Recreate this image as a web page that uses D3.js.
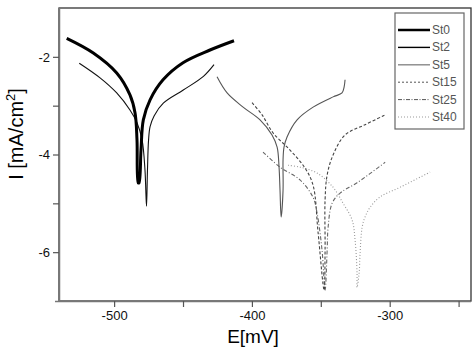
<!DOCTYPE html>
<html>
<head>
<meta charset="utf-8">
<script src="https://cdn.jsdelivr.net/npm/d3@7"></script>
<style>
  body { margin: 0; background: #fff; }
  text { font-family: "Liberation Sans", Arial, sans-serif; }
</style>
</head>
<body>
<svg id="chart"></svg>
<script>
// Tafel curves: E [mV] and log I [mA/cm2]
const st0E = [-534.4, -515.1, -498.1, -488.5, -484.8, -483.4, -482.5, -481.9, -480.5, -478.8, -473.9, -464.5, -450.0, -430.4, -413.0];
const st0I = [-1.62, -1.92, -2.33, -2.78, -3.15, -3.70, -4.58, -4.58, -3.91, -3.29, -2.88, -2.47, -2.12, -1.86, -1.67];

const st2E = [-525.3, -510.2, -498.1, -488.5, -483.4, -479.7, -477.6, -476.5, -475.8, -475.0, -473.9, -471.0, -464.3, -449.8, -435.2, -427.5];
const st2I = [-2.13, -2.43, -2.74, -3.09, -3.35, -3.70, -4.32, -5.06, -4.32, -3.70, -3.43, -3.21, -2.95, -2.68, -2.40, -2.16];

const st5E = [-425.3, -418.0, -406.4, -394.1, -385.4, -381.7, -380.3, -379.6, -378.8, -377.4, -377.4, -376.7, -374.5, -367.2, -355.6, -341.1, -334.6, -333.1, -332.4];
const st5I = [-2.41, -2.74, -3.03, -3.29, -3.60, -3.85, -4.26, -4.73, -5.28, -4.73, -4.11, -3.85, -3.64, -3.29, -3.03, -2.82, -2.74, -2.62, -2.47];

const st15E = [-399.9, -392.6, -384.6, -372.3, -361.4, -355.6, -352.0, -347.6, -346.9, -346.9, -345.4, -341.1, -332.4, -317.9, -303.3];
const st15I = [-2.94, -3.19, -3.56, -3.91, -4.28, -4.63, -5.59, -6.78, -5.96, -4.93, -4.42, -4.01, -3.60, -3.39, -3.19];

const st25E = [-391.9, -379.6, -365.1, -355.6, -352.7, -349.1, -346.9, -345.4, -344.7, -341.8, -336.0, -323.7, -303.3];
const st25I = [-3.95, -4.26, -4.52, -4.88, -5.20, -5.96, -6.78, -5.96, -5.49, -5.00, -4.79, -4.58, -4.16];

const st40E = [-373.8, -365.0, -352.7, -341.1, -333.8, -327.3, -325.1, -323.7, -323.7, -322.2, -321.5, -320.0, -317.9, -314.2, -307.0, -292.4, -270.7];
const st40I = [-4.22, -4.26, -4.38, -4.67, -5.00, -5.34, -5.76, -6.43, -6.72, -6.43, -6.02, -5.49, -5.28, -5.08, -4.87, -4.67, -4.36];

const seriesNames = ["St0", "St2", "St5", "St15", "St25", "St40"];
const xTicks = [-500, -450, -400, -350, -300, -250];
const xTickLabels = ["-500", "", "-400", "", "-300", ""];
const yTicks = [-2, -3, -4, -5, -6];
const yTickLabels = ["-2", "", "-4", "", "-6"];

function main() {
    const width = 474, height = 351;
    const svg = d3.select("#chart").attr("width", width).attr("height", height);

    // plot frame
    const left = 59, right = 471, top = 8, bottom = 301;

    const x = d3.scaleLinear().domain([-540, -241]).range([left, right]);
    const y = d3.scaleLinear().domain([-7, -1]).range([bottom, top]);

    const series = [
        { name: "St0", e: st0E, i: st0I, color: "#000", w: 3, dash: null },
        { name: "St2", e: st2E, i: st2I, color: "#111", w: 1.1, dash: null },
        { name: "St5", e: st5E, i: st5I, color: "#555", w: 1.1, dash: null },
        { name: "St15", e: st15E, i: st15I, color: "#444", w: 1.1, dash: "3,2" },
        { name: "St25", e: st25E, i: st25I, color: "#666", w: 1.1, dash: "4,2,1,2" },
        { name: "St40", e: st40E, i: st40I, color: "#999", w: 1.1, dash: "1,2" }
    ];
    const legendStyle = [
        { color: "#000", w: 2.5, dash: null },
        { color: "#000", w: 1.4, dash: null },
        { color: "#888", w: 1.4, dash: null },
        { color: "#555", w: 1, dash: "2,2" },
        { color: "#555", w: 1, dash: "4,1.5,1,1.5" },
        { color: "#999", w: 1, dash: "1,2" }
    ];

    // frame top/right
    svg.append("rect")
        .attr("x", left).attr("y", top)
        .attr("width", right - left).attr("height", bottom - top)
        .attr("fill", "none")
        .attr("stroke", "#333")
        .attr("stroke-width", 1.3);

    // x axis
    const xAxis = svg.append("g")
        .attr("transform", `translate(0, ${bottom})`)
        .call(d3.axisBottom(x).tickValues(xTicks).tickSize(6).tickPadding(4)
            .tickFormat((d, k) => xTickLabels[k]));
    xAxis.select(".domain").attr("stroke", "#777").attr("stroke-width", 1.5)
        .attr("d", `M${left - 4},0.5H${right}`);
    xAxis.selectAll("line").attr("stroke", "#555").attr("stroke-width", 1.2);
    xAxis.selectAll("text").attr("font-size", 13).attr("fill", "#111");

    // y axis
    const yAxis = svg.append("g")
        .attr("transform", `translate(${left}, 0)`)
        .call(d3.axisLeft(y).tickValues(yTicks).tickSize(6).tickPadding(3)
            .tickFormat((d, k) => yTickLabels[k]));
    yAxis.select(".domain").attr("stroke", "#777").attr("stroke-width", 1.5)
        .attr("d", `M0.5,${top}V${bottom}`);
    yAxis.selectAll("line").attr("stroke", "#555").attr("stroke-width", 1.2);
    yAxis.selectAll("text").attr("font-size", 13).attr("fill", "#111");

    // curves
    const line = d3.line()
        .x(d => x(d[0]))
        .y(d => y(d[1]))
        .curve(d3.curveCatmullRom.alpha(0.5));

    series.slice().reverse().forEach(s => {
        const pts = s.e.map((v, k) => [v, s.i[k]]);
        svg.append("path")
            .datum(pts)
            .attr("d", line)
            .attr("fill", "none")
            .attr("stroke", s.color)
            .attr("stroke-width", s.w)
            .attr("stroke-dasharray", s.dash);
    });

    // legend
    const lg = svg.append("g").attr("transform", "translate(395, 13)");
    lg.append("rect")
        .attr("width", 69).attr("height", 116)
        .attr("fill", "#fff")
        .attr("stroke", "#666")
        .attr("stroke-width", 1.2);
    seriesNames.forEach((name, k) => {
        const yy = 17 + k * 17.4;
        lg.append("line")
            .attr("x1", 3).attr("x2", 35)
            .attr("y1", yy).attr("y2", yy)
            .attr("stroke", legendStyle[k].color)
            .attr("stroke-width", legendStyle[k].w)
            .attr("stroke-dasharray", legendStyle[k].dash);
        lg.append("text")
            .attr("x", 37).attr("y", yy + 4)
            .attr("font-size", 12)
            .attr("fill", "#555")
            .text(name);
    });

    // axis titles
    svg.append("text")
        .text("E[mV]")
        .attr("x", 253).attr("y", 343)
        .attr("font-size", 19)
        .style("text-anchor", "middle");

    const yt = svg.append("text")
        .attr("font-size", 20)
        .style("text-anchor", "middle")
        .attr("transform", "translate(23, 134) rotate(-90)");
    yt.append("tspan").text("I [mA/cm");
    yt.append("tspan").text("2").attr("font-size", 13).attr("dy", -8);
    yt.append("tspan").text("]").attr("dy", 8);
}

main();
</script>
</body>
</html>
